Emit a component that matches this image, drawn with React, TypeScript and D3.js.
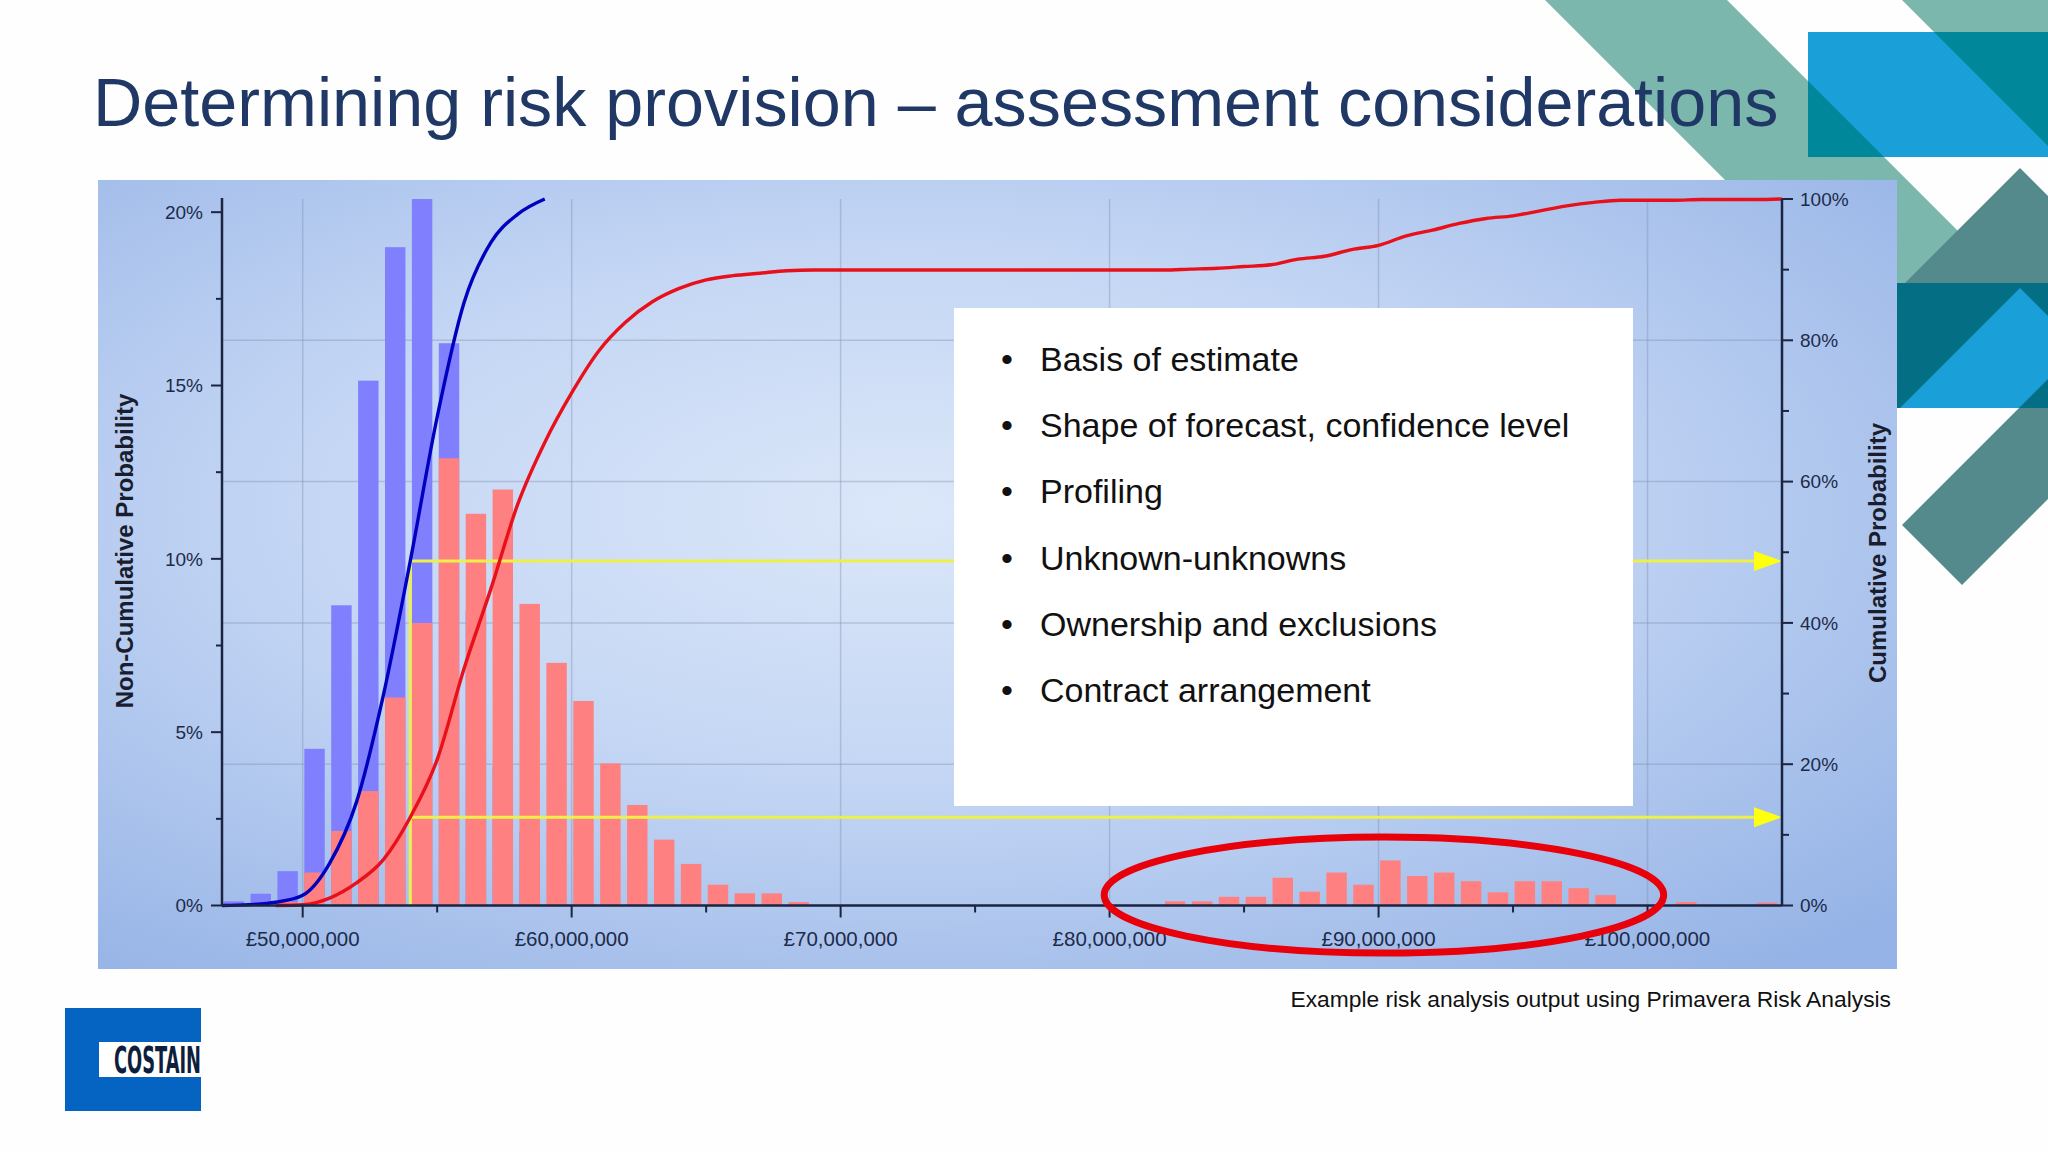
import React from "react";
import * as d3 from "d3";

// ---------- data ----------
// Histogram bins are 1M wide, given by their start value in £M
const blueBinStart = [47, 48, 49, 50, 51, 52, 53, 54, 55, 56, 57, 58];
const blueProb = [0.12, 0.34, 0.99, 4.52, 8.66, 15.14, 18.99, 20.38, 16.22, 8.5, 4.0, 2.14];

const redBinStart = [
  49, 50, 51, 52, 53, 54, 55, 56, 57, 58, 59, 60, 61, 62, 63, 64, 65, 66, 67, 68,
  82, 83, 84, 85, 86, 87, 88, 89, 90, 91, 92, 93, 94, 95, 96, 97, 98, 101, 104,
];
const redProb = [
  0.1, 0.95, 2.15, 3.3, 6.0, 8.15, 12.9, 11.3, 12.0, 8.7, 7.0, 5.9, 4.1, 2.9, 1.9, 1.2, 0.6, 0.35, 0.35, 0.1,
  0.12, 0.12, 0.25, 0.25, 0.8, 0.4, 0.95, 0.6, 1.3, 0.85, 0.95, 0.7, 0.38, 0.7, 0.7, 0.5, 0.3, 0.1, 0.08,
];

const xMajorTicks = [50, 60, 70, 80, 90, 100];
const xMinorTicks = [55, 65, 75, 85, 95];
const leftMajorTicks = [0, 5, 10, 15, 20];
const leftMinorTicks = [2.5, 7.5, 12.5, 17.5];
const rightMajorTicks = [0, 20, 40, 60, 80, 100];
const rightMinorTicks = [10, 30, 50, 70, 90];
const markerCost = 54; // £M, yellow marker
const ellipseCenter = { x: 90.2, y: 0.3 };
const ellipseHalfWidthM = 10.4;

const title = "Determining risk provision \u2013 assessment considerations";
const bullets = [
  "Basis of estimate",
  "Shape of forecast, confidence level",
  "Profiling",
  "Unknown-unknowns",
  "Ownership and exclusions",
  "Contract arrangement",
];
const footnote = "Example risk analysis output using Primavera Risk Analysis";

// ---------- helpers ----------
function cumulativePoints(starts: number[], probs: number[]) {
  const cum = Array.from(d3.cumsum(probs));
  const pts: [number, number][] = [];
  starts.forEach((s, i) => {
    const before = i === 0 ? 0 : cum[i - 1];
    const last = pts[pts.length - 1];
    if (!last || last[0] !== s) pts.push([s, Math.min(100, before)]);
    pts.push([s + 1, Math.min(100, cum[i])]);
  });
  return pts;
}
function cumAt(starts: number[], probs: number[], v: number) {
  return d3.sum(starts.map((s, i) => (s + 1 <= v ? probs[i] : 0)));
}

const FONT = "'Liberation Sans', Arial, Helvetica, sans-serif";

export default function App() {
  const W = 2048;
  const H = 1152;
  const plot = { left: 222, right: 1782, top: 199, bottom: 905.5 };

  const x = d3.scaleLinear().domain([47, 105]).range([plot.left, plot.right]);
  const yL = d3.scaleLinear().domain([0, 20.38]).range([plot.bottom, plot.top]);
  const yR = d3.scaleLinear().domain([0, 100]).range([plot.bottom, plot.top]);

  const line = d3
    .line<[number, number]>()
    .x((d) => x(d[0]))
    .y((d) => yR(d[1]))
    .curve(d3.curveMonotoneX);

  const bluePath = line(cumulativePoints(blueBinStart, blueProb)) || "";
  const redPath = line(cumulativePoints(redBinStart, redProb)) || "";

  const barOffset = 0.06;
  const barWidthM = 0.76;
  const fmtMoney = (v: number) => "\u00a3" + d3.format(",")(v * 1e6);

  const blueAtMarker = cumAt(blueBinStart, blueProb, markerCost);
  const redAtMarker = cumAt(redBinStart, redProb, markerCost);
  const mx = x(markerCost);

  const axisColor = "#1b2542";
  const labelColor = "#1d2b4b";
  const gridColor = "rgba(125,140,170,0.38)";
  const yellow = "#eef04a";

  const arrow = (yy: number) => {
    const tip = plot.right;
    return `M${tip},${yy} L${tip - 28},${yy - 10} L${tip - 28},${yy + 10} Z`;
  };

  return (
    <svg
      width={W}
      height={H}
      viewBox={`0 0 ${W} ${H}`}
      style={{ position: "absolute", left: 0, top: 0, display: "block", background: "#fefefe" }}
    >
      <defs>
        <radialGradient id="panelGrad" cx="45%" cy="42%" r="75%">
          <stop offset="0%" stopColor="#dbe7f9" />
          <stop offset="45%" stopColor="#c4d6f4" />
          <stop offset="100%" stopColor="#95b3e6" />
        </radialGradient>
      </defs>

      {/* decorative shapes top-right */}
      <g>
        <polygon points="1545,0 1727,0 2010,283 1828,283" fill="#7bb7ac" />
        <polygon points="1902,0 2048,0 2048,146" fill="#7bb7ac" />
        <rect x={1808} y={32} width={240} height={125} fill="#1a9fd9" />
        <polygon points="1808,81 1884,157 1808,157" fill="#008799" />
        <polygon points="1934,32 2048,32 2048,146" fill="#008799" />
        <polygon points="2020,168 2135,283 1905,283" fill="#558a8d" />
        <rect x={1897} y={283} width={151} height={125} fill="#046e84" />
        <polygon points="2020,288 2140,408 1900,408" fill="#1a9fd9" />
        <polygon points="2019,408 2048,379 2048,408" fill="#046e84" />
        <polygon points="1902,525 1962,585 2048,499 2048,408 2019,408" fill="#558a8d" />
      </g>

      {/* title */}
      <text x={93} y={126} fontFamily={FONT} fontSize={68.3} fill="#1f3865">
        {title}
      </text>

      {/* chart panel */}
      <rect x={98} y={180} width={1799} height={789} fill="url(#panelGrad)" />

      {/* grid */}
      <g>
        {xMajorTicks.map((t) => (
          <line key={"gx" + t} x1={x(t)} x2={x(t)} y1={plot.top} y2={plot.bottom} stroke={gridColor} strokeWidth={1.5} />
        ))}
        {[20, 40, 60, 80].map((t) => (
          <line key={"gy" + t} x1={plot.left} x2={plot.right} y1={yR(t)} y2={yR(t)} stroke={gridColor} strokeWidth={1.5} />
        ))}
      </g>

      {/* bars */}
      <g>
        {blueBinStart.map((s, i) => (
          <rect
            key={"b" + s}
            x={x(s + barOffset)}
            width={x(s + barOffset + barWidthM) - x(s + barOffset)}
            y={yL(blueProb[i])}
            height={plot.bottom - yL(blueProb[i])}
            fill="#8080ff"
          />
        ))}
        {redBinStart.map((s, i) => (
          <rect
            key={"r" + s}
            x={x(s + barOffset)}
            width={x(s + barOffset + barWidthM) - x(s + barOffset)}
            y={yL(redProb[i])}
            height={plot.bottom - yL(redProb[i])}
            fill="#ff8080"
          />
        ))}
      </g>

      {/* yellow marker lines */}
      <g>
        <line x1={mx} x2={mx} y1={plot.bottom} y2={yR(blueAtMarker)} stroke={yellow} strokeWidth={3} />
        <line x1={mx} x2={plot.right - 20} y1={yR(blueAtMarker)} y2={yR(blueAtMarker)} stroke={yellow} strokeWidth={3} />
        <line x1={mx} x2={plot.right - 20} y1={yR(redAtMarker)} y2={yR(redAtMarker)} stroke={yellow} strokeWidth={3} />
        <path d={arrow(yR(blueAtMarker))} fill="#ffff10" />
        <path d={arrow(yR(redAtMarker))} fill="#ffff10" />
      </g>

      {/* cumulative curves */}
      <path d={bluePath} fill="none" stroke="#0000bf" strokeWidth={3.4} />
      <path d={redPath} fill="none" stroke="#e8101a" strokeWidth={3.4} />

      {/* axes */}
      <g fontFamily={FONT} fontSize={19} fill={labelColor}>
        <line x1={plot.left} x2={plot.right} y1={plot.bottom} y2={plot.bottom} stroke={axisColor} strokeWidth={2.5} />
        <line x1={plot.left} x2={plot.left} y1={plot.top - 1} y2={plot.bottom} stroke={axisColor} strokeWidth={2.5} />
        <line x1={plot.right} x2={plot.right} y1={plot.top} y2={plot.bottom} stroke={axisColor} strokeWidth={2.5} />

        {xMajorTicks.map((t) => (
          <g key={"xt" + t}>
            <line x1={x(t)} x2={x(t)} y1={plot.bottom} y2={plot.bottom + 12} stroke={axisColor} strokeWidth={2} />
            <text x={x(t)} y={946} textAnchor="middle" fontSize={20.5}>
              {fmtMoney(t)}
            </text>
          </g>
        ))}
        {xMinorTicks.map((t) => (
          <line key={"xm" + t} x1={x(t)} x2={x(t)} y1={plot.bottom} y2={plot.bottom + 7} stroke={axisColor} strokeWidth={2} />
        ))}

        {leftMajorTicks.map((t) => (
          <g key={"lt" + t}>
            <line x1={plot.left - 11} x2={plot.left} y1={yL(t)} y2={yL(t)} stroke={axisColor} strokeWidth={2} />
            <text x={203} y={yL(t)} dy="0.36em" textAnchor="end">
              {t + "%"}
            </text>
          </g>
        ))}
        {leftMinorTicks.map((t) => (
          <line key={"lm" + t} x1={plot.left - 6} x2={plot.left} y1={yL(t)} y2={yL(t)} stroke={axisColor} strokeWidth={2} />
        ))}

        {rightMajorTicks.map((t) => (
          <g key={"rt" + t}>
            <line x1={plot.right} x2={plot.right + 11} y1={yR(t)} y2={yR(t)} stroke={axisColor} strokeWidth={2} />
            <text x={1800} y={yR(t)} dy="0.36em" textAnchor="start">
              {t + "%"}
            </text>
          </g>
        ))}
        {rightMinorTicks.map((t) => (
          <line key={"rm" + t} x1={plot.right} x2={plot.right + 7} y1={yR(t)} y2={yR(t)} stroke={axisColor} strokeWidth={2} />
        ))}

        <text
          transform="translate(124,551) rotate(-90)"
          textAnchor="middle"
          dominantBaseline="central"
          fontWeight="bold"
          fontSize={24}
          fill="#1a1d2e"
        >
          Non-Cumulative Probability
        </text>
        <text
          transform="translate(1877,553) rotate(-90)"
          textAnchor="middle"
          dominantBaseline="central"
          fontWeight="bold"
          fontSize={24}
          fill="#1a1d2e"
        >
          Cumulative Probability
        </text>
      </g>

      {/* white text box */}
      <rect x={954} y={308} width={679} height={498} fill="#ffffff" />
      <g fontFamily={FONT} fontSize={34} fill="#111111">
        {bullets.map((b, i) => (
          <g key={b}>
            <text x={1007} y={371 + i * 66.2} textAnchor="middle">
              {"\u2022"}
            </text>
            <text x={1040} y={371 + i * 66.2}>
              {b}
            </text>
          </g>
        ))}
      </g>

      {/* red annotation ellipse */}
      <ellipse
        cx={x(ellipseCenter.x)}
        cy={yL(ellipseCenter.y)}
        rx={x(ellipseCenter.x + ellipseHalfWidthM) - x(ellipseCenter.x)}
        ry={58}
        fill="none"
        stroke="#e8000b"
        strokeWidth={7}
      />

      {/* footnote */}
      <text x={1891} y={1007} textAnchor="end" fontFamily={FONT} fontSize={22.8} fill="#111111">
        {footnote}
      </text>

      {/* COSTAIN logo */}
      <g>
        <rect x={65} y={1008} width={136} height={103} fill="#0563c1" />
        <rect x={99} y={1042} width={102} height={35} fill="#ffffff" />
        <text
          x={114}
          y={1073}
          fontFamily="'Liberation Sans Narrow', 'DejaVu Sans Condensed', 'Liberation Sans', Arial, sans-serif"
          fontWeight="bold"
          fontSize={38}
          fill="#0d1f3c"
          textLength={87}
          lengthAdjust="spacingAndGlyphs"
        >
          COSTAIN
        </text>
      </g>
    </svg>
  );
}
